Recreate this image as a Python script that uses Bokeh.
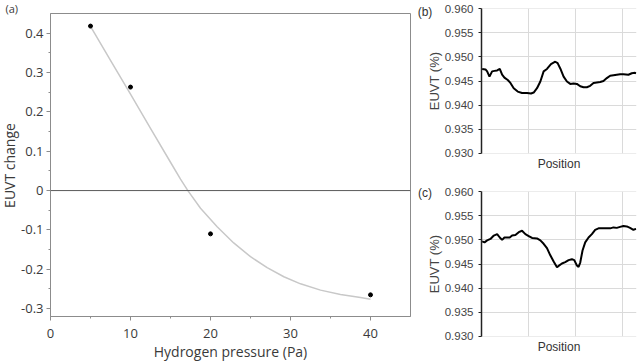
import math
from bokeh.plotting import figure
from bokeh.layouts import row, column
from bokeh.models import (Range1d, FixedTicker, NumeralTickFormatter, Span, Label)
from bokeh.embed import file_html
from bokeh.resources import INLINE

# ---------------- data ----------------
# (a) EUVT change vs hydrogen pressure
pressure = [5, 10, 20, 40]
euvt_change = [0.418, 0.263, -0.110, -0.265]
fit_x = [5, 7.5, 10, 12.5, 15, 16.25, 17.17, 18.75, 20.83, 22.9, 25, 27.08,
         29.17, 31.25, 33.75, 36.25, 38.75, 40]
fit_y = [0.417, 0.331, 0.245, 0.158, 0.072, 0.029, 0.0, -0.045, -0.092, -0.133,
         -0.168, -0.196, -0.219, -0.237, -0.253, -0.264, -0.272, -0.276]
a_xticks = [0, 10, 20, 30, 40]
a_xminor = [5, 15, 25, 35]
a_yticks = [-0.3, -0.2, -0.1, 0, 0.1, 0.2, 0.3, 0.4]
a_yminor = [-0.25, -0.15, -0.05, 0.05, 0.15, 0.25, 0.35]

# (b) EUVT profile
b_pos = [0.014, 0.085, 0.12, 0.17, 0.226, 0.276, 0.333, 0.389, 0.439, 0.488,
         0.559, 0.616, 0.686, 0.771, 0.863, 0.970, 1.054, 1.111, 1.182, 1.253,
         1.323, 1.394, 1.479, 1.571, 1.621, 1.677, 1.748, 1.819, 1.890, 1.960,
         2.031, 2.102, 2.173, 2.243, 2.314, 2.385, 2.456, 2.527, 2.597, 2.668,
         2.739, 2.810, 2.880, 2.951, 3.022, 3.128, 3.199, 3.270, 3.291]
b_val = [0.9475, 0.9474, 0.9470, 0.9459, 0.9470, 0.9471, 0.9472, 0.9475, 0.9463, 0.9457,
         0.9452, 0.9446, 0.9435, 0.9428, 0.9425, 0.9425, 0.9424, 0.9426, 0.9435, 0.9449,
         0.9470, 0.9475, 0.9485, 0.9490, 0.9487, 0.9476, 0.9459, 0.9449, 0.9444, 0.9445,
         0.9444, 0.9439, 0.9437, 0.9437, 0.9440, 0.9446, 0.9447, 0.9448, 0.9450, 0.9456,
         0.9461, 0.9462, 0.9463, 0.9464, 0.9464, 0.9463, 0.9466, 0.9467, 0.9466]

# (c) EUVT profile
c_pos = [0.014, 0.064, 0.12, 0.191, 0.262, 0.333, 0.389, 0.439, 0.488, 0.545,
         0.602, 0.651, 0.722, 0.793, 0.863, 0.934, 1.005, 1.076, 1.182, 1.253,
         1.323, 1.394, 1.465, 1.536, 1.607, 1.642, 1.713, 1.783, 1.854, 1.925,
         1.975, 2.031, 2.067, 2.102, 2.151, 2.208, 2.279, 2.350, 2.420, 2.491,
         2.562, 2.668, 2.739, 2.810, 2.880, 2.951, 3.022, 3.093, 3.163, 3.234, 3.291]
c_val = [0.9497, 0.9495, 0.9499, 0.9502, 0.9509, 0.9512, 0.9505, 0.9500, 0.9505, 0.9505,
         0.9505, 0.9509, 0.9510, 0.9516, 0.9519, 0.9512, 0.9508, 0.9504, 0.9503, 0.9499,
         0.9492, 0.9483, 0.9468, 0.9455, 0.9443, 0.9446, 0.9451, 0.9454, 0.9458, 0.9460,
         0.9458, 0.9447, 0.9444, 0.9453, 0.9478, 0.9495, 0.9505, 0.9512, 0.9521, 0.9524,
         0.9524, 0.9524, 0.9524, 0.9526, 0.9525, 0.9527, 0.9529, 0.9528, 0.9525, 0.9521, 0.9523]
bc_yticks = [0.930, 0.935, 0.940, 0.945, 0.950, 0.955, 0.960]
bc_xgrid = [1, 2, 3]

FONT_A = "Open Sans"
FONT_B = "Liberation Sans"

# ---------------- panel (a) ----------------
pa = figure(width=418, height=363, output_backend="svg", toolbar_location=None,
            x_range=Range1d(0, 45), y_range=Range1d(-0.32, 0.45),
            min_border_left=50, min_border_right=8, min_border_top=13, min_border_bottom=44)
pa.grid.visible = False
pa.outline_line_color = "#8c8c8c"

pa.line(fit_x, fit_y, line_color="#c8c8c8", line_width=1.5)
pa.scatter(pressure, euvt_change, size=4, color="black")
pa.add_layout(Span(location=0, dimension="width", line_color="#5a5a5a", line_width=1))

for ax in (pa.xaxis[0], pa.yaxis[0]):
    ax.axis_line_color = "#8c8c8c"
    ax.major_tick_line_color = "#8c8c8c"
    ax.minor_tick_line_color = "#8c8c8c"
    ax.major_tick_in = 0
    ax.major_tick_out = 4
    ax.minor_tick_in = 0
    ax.minor_tick_out = 2
    ax.major_label_text_font = FONT_A
    ax.major_label_text_font_size = "13px"
    ax.major_label_text_color = "#3a3a3a"
    ax.axis_label_text_font = FONT_A
    ax.axis_label_text_font_size = "14px"
    ax.axis_label_text_font_style = "normal"
    ax.axis_label_text_color = "#3a3a3a"

pa.xaxis.ticker = FixedTicker(ticks=a_xticks, minor_ticks=a_xminor)
pa.yaxis.ticker = FixedTicker(ticks=a_yticks, minor_ticks=a_yminor)
pa.yaxis.formatter = NumeralTickFormatter(format="0.[0]")
pa.xaxis.axis_label = "Hydrogen pressure (Pa)"
pa.xaxis.major_label_standoff = 8
pa.xaxis.axis_label_standoff = 1
pa.yaxis.major_label_standoff = 3


# ---------------- panels (b) and (c) ----------------
def profile(pos, val, height, top, bottom):
    p = figure(width=219, height=height, output_backend="svg", toolbar_location=None,
               x_range=Range1d(0, 3.3), y_range=Range1d(0.92995, 0.96005),
               min_border_left=63, min_border_right=1, min_border_top=top,
               min_border_bottom=bottom)
    p.outline_line_color = None
    p.line(pos, val, line_color="black", line_width=2)
    p.xgrid.ticker = FixedTicker(ticks=bc_xgrid)
    p.ygrid.ticker = FixedTicker(ticks=bc_yticks)
    p.grid.grid_line_color = "#dadada"
    p.grid.grid_line_width = 1

    ya = p.yaxis[0]
    ya.ticker = FixedTicker(ticks=bc_yticks)
    ya.formatter = NumeralTickFormatter(format="0.000")
    ya.axis_line_color = "#222222"
    ya.axis_line_width = 1.5
    ya.major_tick_line_color = "#222222"
    ya.major_tick_in = 0
    ya.major_tick_out = 3
    ya.minor_tick_line_color = None
    ya.major_label_text_font = FONT_B
    ya.major_label_text_font_size = "11.5px"
    ya.major_label_text_color = "#444444"
    ya.major_label_standoff = 5
    ya.axis_label = "EUVT (%)"
    ya.axis_label_text_font = FONT_B
    ya.axis_label_text_font_size = "13px"
    ya.axis_label_text_font_style = "normal"
    ya.axis_label_text_color = "#444444"
    ya.axis_label_standoff = 0

    xa = p.xaxis[0]
    xa.ticker = FixedTicker(ticks=[])
    xa.axis_line_color = None
    xa.major_tick_line_color = None
    xa.minor_tick_line_color = None
    xa.major_label_text_font_size = "0px"
    xa.major_label_standoff = 0
    xa.axis_label = "Position"
    xa.axis_label_text_font = FONT_B
    xa.axis_label_text_font_size = "12px"
    xa.axis_label_text_font_style = "normal"
    xa.axis_label_text_color = "#333333"
    xa.axis_label_standoff = 3
    return p


pb = profile(b_pos, b_val, 175, 8, 22)
pc = profile(c_pos, c_val, 188, 16, 27)

# ---------------- transparent overlay for panel letters and the (a) y label ----------------
ov = figure(width=637, height=363, output_backend="svg", toolbar_location=None,
            x_range=Range1d(0, 637), y_range=Range1d(363, 0),
            x_axis_location=None, y_axis_location=None,
            min_border=0, min_border_left=0, min_border_right=0,
            min_border_top=0, min_border_bottom=0)
ov.grid.visible = False
ov.outline_line_color = None
ov.background_fill_alpha = 0
ov.border_fill_alpha = 0
ov.margin = (-363, 0, 0, 0)

ov.add_layout(Label(x=5, y=8, text="(a)", text_font=FONT_A, text_font_size="11px",
                    text_color="#3a3a3a", text_baseline="middle", text_align="left"))
ov.add_layout(Label(x=8.5, y=165, text="EUVT change", angle=math.pi / 2,
                    text_font=FONT_A, text_font_size="14px", text_color="#3a3a3a",
                    text_baseline="middle", text_align="center"))
ov.add_layout(Label(x=424.5, y=11, text="(b)", text_font=FONT_B, text_font_size="12px",
                    text_color="#333333", text_baseline="middle", text_align="center"))
ov.add_layout(Label(x=424.5, y=192.5, text="(c)", text_font=FONT_B, text_font_size="12px",
                    text_color="#333333", text_baseline="middle", text_align="center"))

layout = column(row(pa, column(pb, pc, spacing=0), spacing=0), ov, spacing=0)

with open("out.html", "w") as f:
    f.write(file_html(layout, INLINE))
